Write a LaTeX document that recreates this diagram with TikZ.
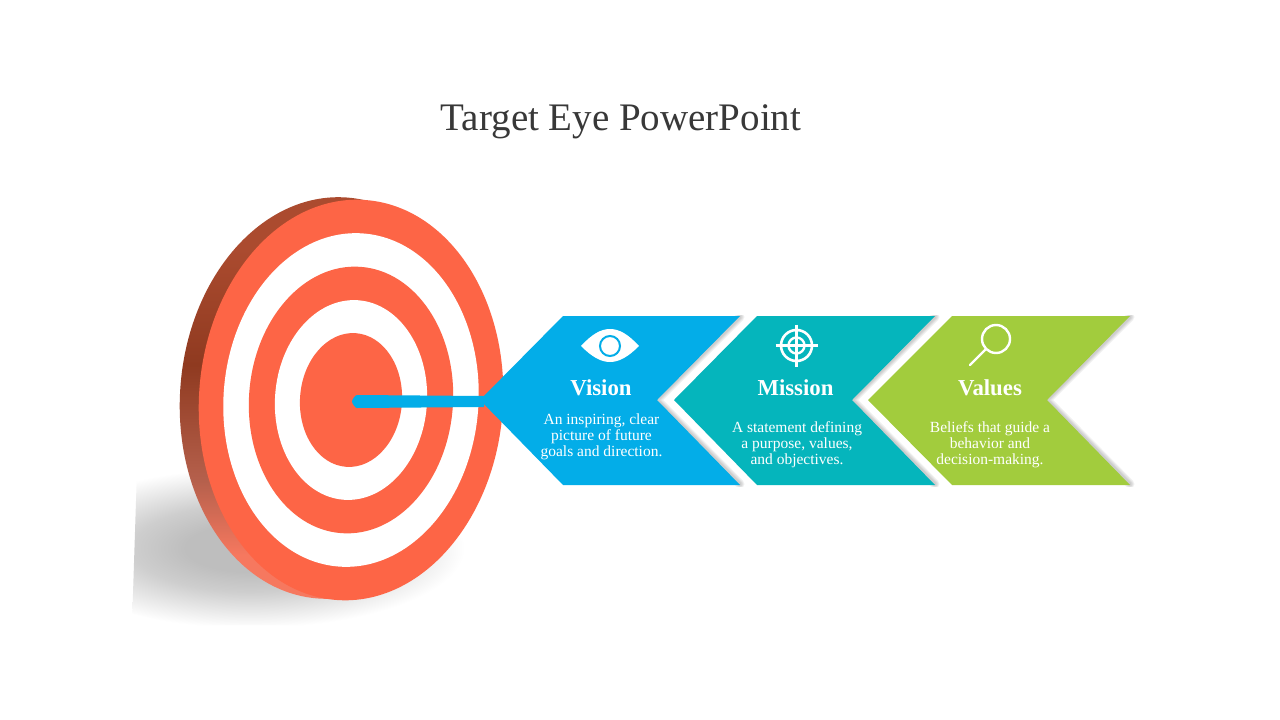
\documentclass[tikz,border=0pt]{standalone}
\usepackage{fontspec}
\setmainfont{Liberation Serif}
\usetikzlibrary{calc}
\definecolor{discred}{HTML}{FD6546}
\definecolor{vblue}{HTML}{03ADE8}
\definecolor{mteal}{HTML}{05B5BC}
\definecolor{vgreen}{HTML}{A2CC3D}
\definecolor{titlegrey}{HTML}{383838}
\definecolor{discside1}{HTML}{AB4B2F}
\definecolor{discside2}{HTML}{8F3A20}
\definecolor{discside3}{HTML}{B5604C}
\definecolor{discside4}{HTML}{F6785F}
\definecolor{shadowcore}{HTML}{BEBEBE}
\definecolor{shadowmid}{HTML}{CECECE}
\pgfdeclareverticalshading{discside}{100bp}{
  color(0bp)=(discside4);
  color(31bp)=(discside4);
  color(40bp)=(discside3);
  color(54bp)=(discside2);
  color(68bp)=(discside1);
  color(100bp)=(discside1)}
\pgfdeclareradialshading{floorshade}{\pgfpoint{0bp}{0bp}}{
  color(0bp)=(shadowcore);
  color(6bp)=(shadowcore);
  color(11bp)=(shadowmid);
  color(20bp)=(white);
  color(50bp)=(white)}
\tikzset{
  ringred/.style={fill=discred,draw=none},
  ringwhite/.style={fill=white,draw=none},
  headlabel/.style={text=white,font=\bfseries\fontsize{22.8}{26}\selectfont,inner sep=0pt,anchor=base},
  bodylabel/.style={text=white,font=\fontsize{15.5}{16.1}\selectfont,inner sep=0pt,align=center,anchor=center},
  iconline/.style={draw=white,line width=2.4pt,fill=none,line cap=round},
}
\newcommand{\chevronshadow}[3]{%
  \begin{scope}
  \clip (400,315.5) rectangle (1200,486.5);
  \foreach \w in {9,7,5,3}{
    \draw[black,line width=\w pt,opacity=0.05,line join=round,line cap=round]
      ($(#1)+(0,1)$) -- (#2) -- ($(#3)+(0,-1)$);
  }
  \end{scope}}
\begin{document}
\begin{tikzpicture}[x=1pt,y=-1pt]
\useasboundingbox (0,0) rectangle (1280,720);
\fill[white] (0,0) rectangle (1280,720);

% floor shadow
\begin{scope}
  \clip (137,470) -- (132,625) -- (520,625) -- (520,470) -- cycle;
  \shade[shading=floorshade,shift={(250,548)},rotate=-6] (0,0) ellipse [x radius=265,y radius=85];
\end{scope}

% disc side
\path[shading=discside,shift={(332.5,398)},rotate=-4]
   (0,0) ellipse [x radius=152.5,y radius=201];

% disc face
\begin{scope}[shift={(351,400)},rotate=-4]
  \path[ringred]   (0,0) ellipse [x radius=152,y radius=200.5];
  \path[ringwhite] (0,0) ellipse [x radius=127.5,y radius=167];
  \path[ringred]   (0,0) ellipse [x radius=102,y radius=133.5];
  \path[ringwhite] (0,0) ellipse [x radius=76,y radius=100];
  \path[ringred]   (0,0) ellipse [x radius=51,y radius=67];
\end{scope}

% chevrons
\coordinate (vTL) at (563,316); \coordinate (vTR) at (740,316);
\coordinate (vN) at (657,400);  \coordinate (vBR) at (740,485);
\coordinate (vBL) at (563,485); \coordinate (vT) at (480,400);
\coordinate (mTL) at (757,316); \coordinate (mTR) at (935,316);
\coordinate (mN) at (852,400);  \coordinate (mBR) at (935,485);
\coordinate (mBL) at (757,485); \coordinate (mT) at (674,400);
\coordinate (gTL) at (952,316); \coordinate (gTR) at (1130,316);
\coordinate (gN) at (1047,400); \coordinate (gBR) at (1130,485);
\coordinate (gBL) at (952,485); \coordinate (gT) at (868,400);
\chevronshadow{vTR}{vN}{vBR}
\chevronshadow{mTR}{mN}{mBR}
\chevronshadow{gTR}{gN}{gBR}
\fill[vblue] (vTL) -- (vTR) -- (vN) -- (vBR) -- (vBL) -- (vT) -- cycle;
\fill[mteal] (mTL) -- (mTR) -- (mN) -- (mBR) -- (mBL) -- (mT) -- cycle;
\fill[vgreen] (gTL) -- (gTR) -- (gN) -- (gBR) -- (gBL) -- (gT) -- cycle;

% dart shaft
\fill[vblue] (357,395) -- (484,396) -- (484,407) -- (357,408)
  .. controls (355,408) and (352,403) .. (352,401.5)
  .. controls (352,400) and (355,395) .. (357,395) -- cycle;

% eye icon
\fill[white] (581,346) .. controls (592,334) and (601,329) .. (610,329)
  .. controls (619,329) and (628,334) .. (639,346)
  .. controls (628,357) and (619,362) .. (610,362)
  .. controls (601,362) and (592,357) .. (581,346) -- cycle;
\draw[vblue,line width=2pt] (610,346) circle [radius=10];

% target icon
\begin{scope}[shift={(796.5,345.5)}]
  \draw[white,line width=2.6pt] (0,0) circle [radius=15.5];
  \draw[white,line width=2.4pt] (0,0) circle [radius=8];
  \draw[white,line width=2.4pt] (-21,0) -- (21,0);
  \draw[white,line width=2.4pt] (0,-21) -- (0,21);
\end{scope}

% magnifier icon
\draw[iconline] (996,339) circle [radius=14];
\draw[iconline] (986,349) -- (970,365);

% texts
\node[font=\fontsize{39}{42}\selectfont,text=titlegrey,inner sep=0pt,anchor=base] (title) at (621,130) {Target Eye PowerPoint};
\node[headlabel] (visionhead) at (601,395) {Vision};
\node[headlabel] (missionhead) at (795.5,395) {Mission};
\node[headlabel] (valueshead) at (990,395) {Values};
\node[bodylabel] (visionbody) at (601.5,437) {An inspiring, clear\\picture of future\\goals and direction.};
\node[bodylabel] (missionbody) at (797,445) {A statement defining\\a purpose, values,\\and objectives.};
\node[bodylabel] (valuesbody) at (990,445) {Beliefs that guide a\\behavior and\\decision-making.};
\end{tikzpicture}
\end{document}
